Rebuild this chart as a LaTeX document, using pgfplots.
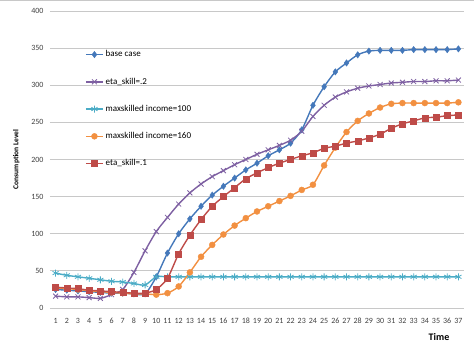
\documentclass[border=0pt]{standalone}
\usepackage{fontspec}
\setmainfont{Carlito}
\usepackage{pgfplots}
\pgfplotsset{compat=1.18}
\usepackage{pgfplotstable}
\definecolor{cBlue}{HTML}{4478BA}
\definecolor{cPurple}{HTML}{7E60A2}
\definecolor{cCyan}{HTML}{4BACC6}
\definecolor{cOrange}{HTML}{F29041}
\definecolor{cRed}{HTML}{BE4B48}
\definecolor{cGrid}{HTML}{C8C8C8}
\pgfplotstableread{
t base eta2 mx100 mx160 eta1
1 25 16 47 27 28
2 24 15 44 26 27
3 23 15 42 25 26
4 22 14 40 23 24
5 21 13 38 22 23
6 20 18 36 21 22
7 20 25 35 20 21
8 19 48 33 19 20
9 19 77 31 19 20
10 42 103 42 18 25
11 74 122 42 20 40
12 100 140 42 29 73
13 120 155 42 48 98
14 137 167 42 69 119
15 152 177 42 85 137
16 164 185 42 99 150
17 175 193 42 111 162
18 186 200 42 121 174
19 195 207 42 130 182
20 205 213 42 137 189
21 213 219 42 144 195
22 222 226 42 151 200
23 240 238 42 159 205
24 273 258 42 166 209
25 298 273 42 192 215
26 318 284 42 216 218
27 330 291 42 237 222
28 341 296 42 252 225
29 346 299 42 262 229
30 347 301 42 270 234
31 347 303 42 275 242
32 347 304 42 276 248
33 348 305 42 276 252
34 348 305 42 276 256
35 348 306 42 276 257
36 348 306 42 276 259
37 349 307 42 277 260
}\datatable
\begin{document}
\begin{tikzpicture}
\path[use as bounding box] (-50pt,-44pt) rectangle (424pt,308pt);
\draw[cGrid, line width=2.5pt] (-50pt,308pt) -- (424pt,308pt);
\begin{axis}[
  at={(0,0)}, anchor=south west,
  scale only axis, width=414pt, height=297pt,
  xmin=0.5, xmax=37.5, ymin=0, ymax=400,
  xtick={1,...,37}, ytick={0,50,...,400},
  axis line style={draw=none},
  major tick length=0pt,
  ymajorgrids, grid style={cGrid, line width=0.8pt},
  tick label style={font=\fontsize{8}{9}\selectfont, text=black!75},
  /pgf/number format/assume math mode=true,
  xticklabel style={yshift=-7pt, inner xsep=0pt},
  yticklabel style={xshift=-3pt},
  ylabel={\textbf{Consumption Level}},
  ylabel style={font=\fontsize{7.5}{9}\selectfont, at={(axis description cs:0,0.5)}, anchor=south, yshift=-3pt},
  every axis y label/.append style={at={(-30pt,148.5pt)}},
  xlabel={\textbf{Time}},
  xlabel style={font=\fontsize{7.5}{9}\selectfont},
  every axis x label/.style={at={(389pt,-29pt)}, anchor=center},
  legend style={draw=none, fill=none, at={(35pt,259.5pt)}, anchor=north west,
    font=\fontsize{9}{10.8}\selectfont, row sep=15.5pt, inner sep=0pt,
    nodes={inner xsep=2pt}},
  legend cell align=left,
  every axis plot/.append style={line width=1.4pt, smooth, tension=0.45},
]
\addplot[cBlue, mark=diamond*, mark size=3.2pt, mark options={solid, fill=cBlue, line width=0.4pt}] table[x=t,y=base]{\datatable};
\addlegendentry{base case}
\addplot[cPurple, mark=x, mark size=3.5pt, mark options={line width=0.8pt}] table[x=t,y=eta2]{\datatable};
\addlegendentry{eta\_skill=.2}
\addplot[cCyan, mark=asterisk, mark size=3.5pt, mark options={line width=0.8pt}] table[x=t,y=mx100]{\datatable};
\addlegendentry{maxskilled income=100}
\addplot[cOrange, mark=*, mark size=3pt, mark options={fill=cOrange, line width=0.4pt}] table[x=t,y=mx160]{\datatable};
\addlegendentry{maxskilled income=160}
\addplot[cRed, mark=square*, mark size=3pt, mark options={fill=cRed, line width=0.4pt}] table[x=t,y=eta1]{\datatable};
\addlegendentry{eta\_skill=.1}
\end{axis}
\end{tikzpicture}
\end{document}
